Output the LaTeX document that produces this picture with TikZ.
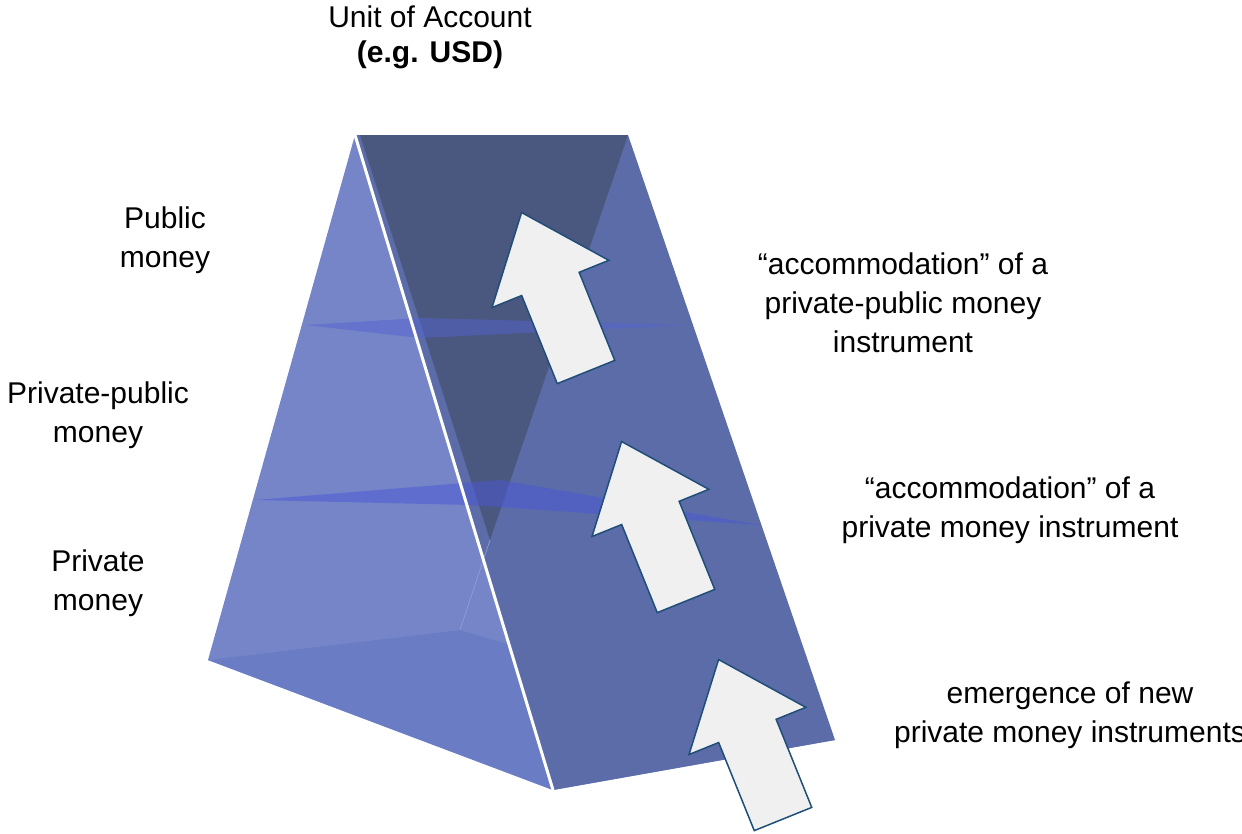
\documentclass[tikz,border=0pt]{standalone}
\usepackage{fontspec}
\setmainfont{Liberation Sans}
\definecolor{lf}{HTML}{6A7CC4}
\definecolor{rf}{HTML}{5B6CA8}
\definecolor{bf}{HTML}{7088C8}
\definecolor{dk}{HTML}{485478}
\definecolor{ol}{HTML}{1F4E79}
\begin{document}
\begin{tikzpicture}[x=1pt,y=-1pt,
  lbl/.style={align=center,font=\fontsize{30}{39}\selectfont},
  arr/.style={draw=ol,line width=1.5pt,fill=gray!12}]
\useasboundingbox (0,0) rectangle (1242,833);
\fill[bf] (208,660) -- (460,630) -- (835,740) -- (553,790) -- cycle;
\fill[rf] (355,135) -- (628,135) -- (835,740) -- (553,790) -- cycle;
\fill[dk,opacity=0.85] (360,135) -- (628,135) -- (490,540) -- cycle;
\fill[lf,opacity=0.93] (355,135) -- (553,790) -- (208,660) -- cycle;
\fill[lf!80!blue,opacity=0.5] (305,325) -- (420,318) -- (690,325) -- (420,338) -- cycle;
\fill[lf!70!blue,opacity=0.5] (255,500) -- (500,480) -- (760,525) -- (470,505) -- cycle;
\draw[lf!70!white,line width=0.6pt] (460,630) -- (490,540);
\draw[white,line width=3pt] (355,135) -- (553,790);
\foreach \tx/\ty in {586/372,686/601,783/819}{
 \begin{scope}[shift={(\tx,\ty)},rotate=112]
  \draw[arr] (0,-31) -- (95,-31) -- (95,-63) -- (172,0) -- (95,63) -- (95,31) -- (0,31) -- cycle;
 \end{scope}}
\node[lbl] (ua) at (430,17) {Unit of Account};
\node[lbl,font=\fontsize{30}{39}\selectfont\bfseries] (usd) at (430,55) {(e.g. USD)};
\node[lbl] (pub) at (165,240) {Public\\money};
\node[lbl] (pp) at (98,415) {Private-public\\money};
\node[lbl] (pr) at (98,583) {Private\\money};
\node[lbl] (a1) at (903,303) {“accommodation” of a\\private-public money\\instrument};
\node[lbl] (a2) at (1010,510) {“accommodation” of a\\private money instrument};
\node[lbl] (a3) at (1070,715) {emergence of new\\private money instruments};
\end{tikzpicture}
\end{document}
